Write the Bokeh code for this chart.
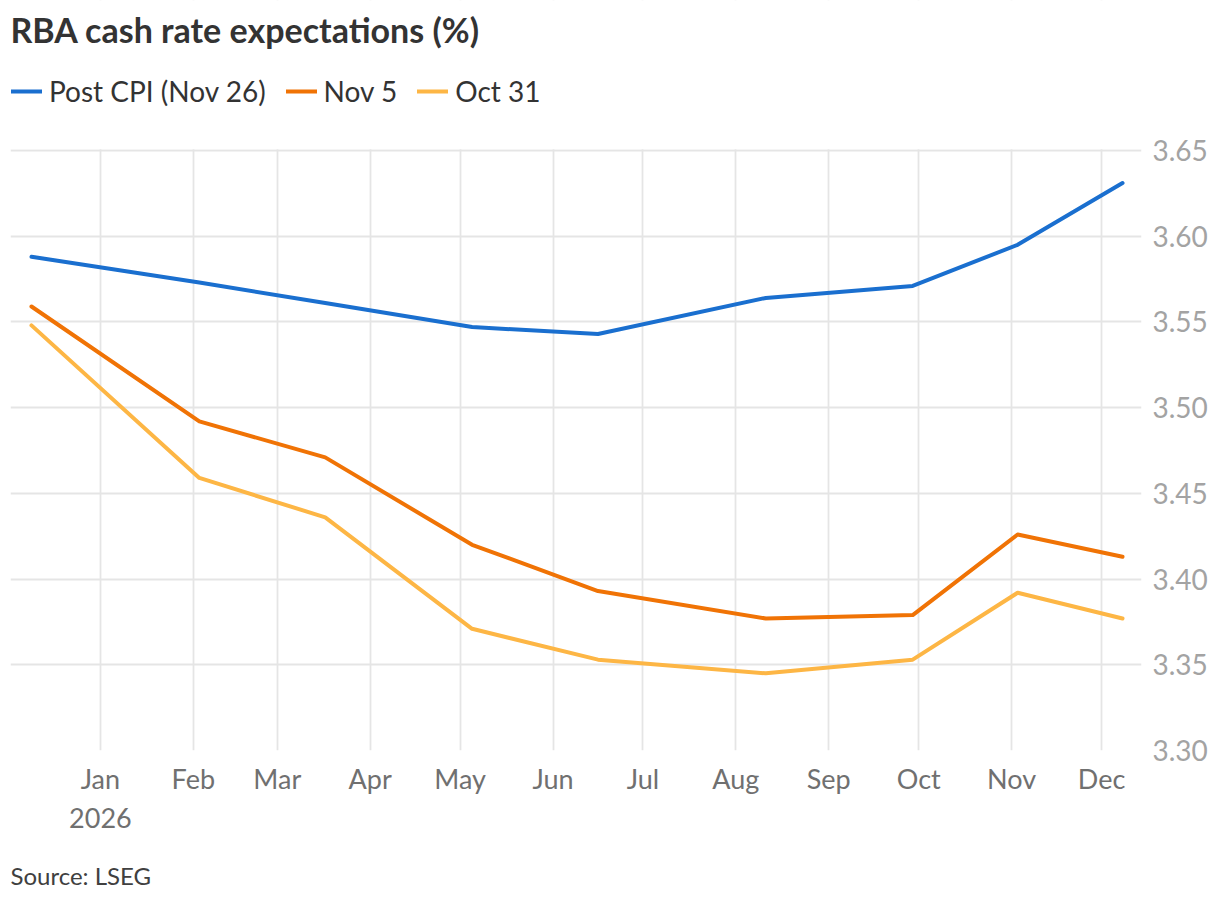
from datetime import datetime
from bokeh.plotting import figure
from bokeh.models import (Range1d, Label, Legend, LegendItem, MonthsTicker, Title, BoxAnnotation,
                          DatetimeTickFormatter, FixedTicker, NumeralTickFormatter)
from bokeh.embed import file_html
from bokeh.resources import INLINE

# ---- data ----
dates = ["2025-12-09", "2026-02-03", "2026-03-17", "2026-05-05", "2026-06-16",
         "2026-08-11", "2026-09-29", "2026-11-03", "2026-12-08"]
post_cpi = [3.588, 3.573, 3.561, 3.547, 3.543, 3.564, 3.571, 3.595, 3.631]
nov_5 = [3.559, 3.492, 3.471, 3.420, 3.393, 3.377, 3.379, 3.426, 3.413]
oct_31 = [3.548, 3.459, 3.436, 3.371, 3.353, 3.345, 3.353, 3.392, 3.377]
series_names = ["Post CPI (Nov 26)", "Nov 5", "Oct 31"]
y_ticks = [3.30, 3.35, 3.40, 3.45, 3.50, 3.55, 3.60, 3.65]
y_min, y_max = 3.30, 3.65

colors = ["#1a6fcf", "#f07305", "#fdb645"]
FONT = "Lato"

x = [datetime.strptime(d, "%Y-%m-%d") for d in dates]

# frame spans the header area too; plot region is 3.30..3.65 (600px tall)
frame_h = 750
px_per_unit = 600 / (y_max - y_min)
y_top = y_max + (frame_h - 600) / px_per_unit

p = figure(width=1212, height=910, x_axis_type="datetime", y_axis_location="right",
           output_backend="svg", toolbar_location=None,
           x_range=Range1d(datetime(2025, 12, 2, 0), datetime(2026, 12, 14, 8)),
           y_range=Range1d(y_min, y_top),
           min_border_left=10, min_border_right=71, min_border_top=0, min_border_bottom=160)
p.outline_line_color = None
p.background_fill_color = "white"
p.border_fill_color = "white"

# grids
p.xgrid.ticker = MonthsTicker(months=list(range(12)))
p.xgrid.grid_line_color = "#e5e5e5"
p.xgrid.grid_line_width = 1.8
p.ygrid.ticker = FixedTicker(ticks=y_ticks)
p.ygrid.grid_line_color = "#e5e5e5"
p.ygrid.grid_line_width = 1.8

# white header area above the top gridline
p.add_layout(BoxAnnotation(bottom=y_max + 1.2 / px_per_unit, fill_color="white", fill_alpha=1,
                           line_color=None))

renderers = []
for vals, c in zip([post_cpi, nov_5, oct_31], colors):
    r = p.line(x, vals, line_color=c, line_width=4, line_join="round", line_cap="round")
    renderers.append(r)

# x axis
xa = p.xaxis[0]
xa.ticker = MonthsTicker(months=list(range(12)))
xa.formatter = DatetimeTickFormatter(months="%b", days="%b",
                                     context=DatetimeTickFormatter(months="%Y", days="%Y"),
                                     context_which="start")
xa.axis_line_color = None
xa.major_tick_line_color = None
xa.minor_tick_line_color = None
xa.major_tick_out = 0
xa.major_tick_in = 0
xa.minor_tick_out = 0
xa.major_label_standoff = 11
xa.major_label_text_font = FONT
xa.major_label_text_font_size = "27px"
xa.major_label_text_color = "#707070"

# y axis
ya = p.yaxis[0]
ya.ticker = FixedTicker(ticks=y_ticks)
ya.formatter = NumeralTickFormatter(format="0.00")
ya.axis_line_color = None
ya.major_tick_line_color = None
ya.minor_tick_line_color = None
ya.major_tick_out = 0
ya.major_tick_in = 0
ya.minor_tick_out = 0
ya.major_label_standoff = 11
ya.major_label_text_font = FONT
ya.major_label_text_font_size = "28px"
ya.major_label_text_color = "#a3a3a3"

# legend
legend = Legend(items=[LegendItem(label=n, renderers=[r]) for n, r in zip(series_names, renderers)],
                orientation="horizontal", location=(1, 642),
                label_text_font=FONT, label_text_font_size="28px", label_text_color="#333333",
                glyph_width=31, glyph_height=30, label_height=30, label_standoff=7, spacing=20,
                padding=0, margin=0, border_line_color=None, background_fill_alpha=0)
p.add_layout(legend, "center")

# title
p.add_layout(Label(x=0, y=721, x_units="screen", y_units="screen",
                   text="RBA cash rate expectations (%)", text_font=FONT,
                   text_font_size="34px", text_font_style="bold", text_color="#333333",
                   text_baseline="alphabetic"))

# source
p.add_layout(Title(text="Source: LSEG", align="left", text_font=FONT, text_font_size="24px",
                   text_font_style="normal", text_color="#404040", standoff=42), "below")

open("out.html", "w").write(file_html(p, INLINE))
